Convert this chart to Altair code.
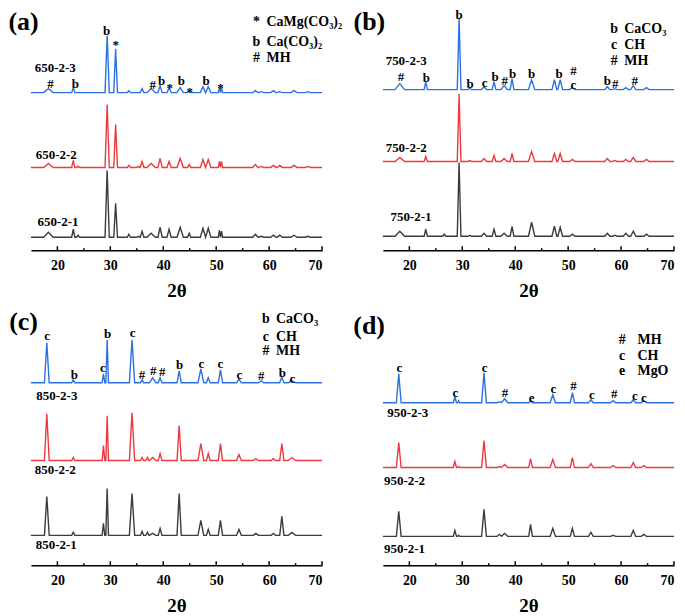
import altair as alt
import pandas as pd

FONT = "Liberation Serif"
COLORS = ["#3c3c3c", "#ee3a3f", "#2a72e4"]  # 1st, 2nd, 3rd sample
X_TICKS = [20, 30, 40, 50, 60, 70]
X_MINOR = [25, 35, 45, 55, 65]

# ---- panel (a): 650 °C ----
a_pos = [18.3, 23.0, 23.9, 29.4, 31.0, 33.5, 35.3, 36.0, 37.7, 39.4, 41.1, 43.2,
         44.9, 47.5, 48.5, 50.6, 51.0, 57.4, 58.5, 60.8, 62.0, 64.7, 67.3]
a_wid = [0.9, 0.3, 0.3, 0.4, 0.35, 0.3, 0.3, 0.35, 0.8, 0.4, 0.4, 0.6,
         0.3, 0.5, 0.5, 0.2, 0.2, 0.5, 0.5, 0.5, 0.5, 0.6, 0.5]
a_gray = [5, 8, 2, 67, 34, 3, 1, 6, 4, 10, 8, 10, 4, 9, 9, 7, 6, 3, 1, 2, 2, 2, 1]
a_red = [4, 7, 1, 63, 43, 2, 1, 6, 4, 9, 6, 9, 3, 8, 8, 6, 6, 3, 1, 2, 2, 2, 1]
a_blue = [4, 5, 0, 57, 44, 2, 0, 4, 4, 7, 5, 5, 2, 6, 6, 5, 5, 2, 1, 2, 1, 2, 1]
a_base = [13, 83, 158]
a_names = ["650-2-1", "650-2-2", "650-2-3"]
a_name_x = [20.1, 19.8, 19.6]
a_name_y = [28, 95, 183]
a_mk_t = ["#", "b", "b", "*", "#", "b", "*", "b", "*", "b", "*"]
a_mk_x = [18.7, 23.4, 29.3, 31.0, 38.0, 39.7, 41.2, 43.4, 45.0, 48.1, 50.8]
a_mk_y = [167, 167, 220, 206, 166, 170, 163, 170, 159, 170, 163]
a_lg_s = ["*", "b", "#"]
a_lg_t = ["CaMg(CO₃)₂", "Ca(CO₃)₂", "MH"]
a_lg_y = [229, 209, 193]

# ---- panel (b): 750 °C ----
b_pos = [18.2, 23.1, 26.6, 29.4, 31.4, 34.1, 36.0, 37.9, 39.4, 43.1, 47.4, 48.5,
         50.8, 57.4, 58.8, 60.9, 62.3, 64.8]
b_wid = [0.9, 0.3, 0.3, 0.35, 0.3, 0.5, 0.35, 0.6, 0.35, 0.6, 0.45, 0.45,
         0.5, 0.5, 0.4, 0.5, 0.5, 0.5]
b_gray = [5, 7, 2, 74, 1, 3, 7, 3, 10, 14, 10, 9, 2, 3, 1, 3, 5, 2]
b_red = [4, 5, 0, 68, 1, 3, 6, 3, 8, 10, 8, 8, 2, 3, 1, 2, 4, 2]
b_blue = [6, 8, 0, 72, 2, 3, 8, 4, 11, 10, 10, 10, 2, 3, 1, 2, 4, 2]
b_base = [14, 89, 161]
b_names = ["750-2-1", "750-2-2", "750-2-3"]
b_name_x = [20.3, 19.4, 19.4]
b_name_y = [33, 102, 190]
b_mk_t = ["#", "b", "b", "b", "c", "b", "#", "b", "b", "b", "#", "c", "b", "#", "#"]
b_mk_x = [18.4, 23.2, 29.4, 31.5, 34.2, 36.2, 38.0, 39.5, 43.1, 48.3, 51.0, 51.0, 57.4, 58.9, 62.6]
b_mk_y = [174, 173, 236, 167, 168, 174, 170, 177, 177, 177, 180, 166, 170, 167, 170]
b_lg_s = ["b", "c", "#"]
b_lg_t = ["CaCO₃", "CH", "MH"]
b_lg_y = [222, 206, 190]

# ---- panel (c): 850 °C ----
c_pos = [18.0, 23.0, 28.7, 29.4, 34.1, 36.0, 37.0, 38.0, 39.4, 43.0, 47.1, 48.5,
         50.8, 54.3, 57.5, 58.5, 60.8, 62.4, 64.3]
c_wid = [0.45, 0.3, 0.25, 0.25, 0.5, 0.3, 0.3, 0.6, 0.35, 0.4, 0.55, 0.35,
         0.4, 0.45, 0.5, 0.5, 0.4, 0.4, 0.7]
c_gray = [39, 3, 12, 47, 42, 4, 3, 2, 7, 42, 15, 6, 15, 6, 2, 0, 2, 19, 3]
c_red = [47, 3, 15, 45, 48, 3, 3, 3, 7, 35, 17, 7, 17, 6, 2, 0, 2, 17, 3]
c_blue = [40, 3, 9, 43, 43, 3, 0, 5, 5, 12, 14, 5, 13, 4, 0, 2, 0, 6, 2]
c_base = [30, 105, 183]
c_names = ["850-2-1", "850-2-2", "850-2-3"]
c_name_x = [19.8, 19.6, 19.9]
c_name_y = [20, 96, 170]
c_mk_t = ["c", "b", "c", "b", "c", "#", "#", "#", "b", "c", "c", "c", "#", "b", "c"]
c_mk_x = [18.06, 23.2, 28.6, 29.5, 34.2, 36.0, 38.1, 39.8, 43.1, 47.2, 50.8, 54.4, 58.5, 62.5, 64.4]
c_mk_y = [230, 191, 198, 232, 233, 191, 195, 194, 201, 202, 202, 191, 190, 193, 187]
c_lg_s = ["b", "c", "#"]
c_lg_t = ["CaCO₃", "CH", "MH"]
c_lg_y = [247, 229, 215]

# ---- panel (d): 950 °C ----
d_pos = [18.0, 28.6, 29.3, 34.1, 37.0, 38.0, 42.9, 47.1, 50.8, 54.3, 58.5, 62.3, 64.3]
d_wid = [0.45, 0.3, 0.2, 0.45, 0.4, 0.6, 0.35, 0.5, 0.4, 0.45, 0.5, 0.45, 0.5]
d_gray = [25, 6, 1, 27, 2, 3, 12, 8, 8, 4, 1, 6, 2]
d_red = [25, 6, 1, 27, 1, 3, 9, 8, 10, 4, 2, 5, 2]
d_blue = [29, 6, 2, 30, 1, 4, 2, 8, 10, 3, 2, 3, 2]
d_base = [29, 98, 163]
d_names = ["950-2-1", "950-2-2", "950-2-3"]
d_name_x = [19.1, 19.1, 19.7]
d_name_y = [16, 84, 153]
d_mk_t = ["c", "c", "c", "#", "e", "c", "#", "c", "#", "c", "c"]
d_mk_x = [18.1, 28.7, 34.2, 38.05, 43.1, 47.2, 51.0, 54.5, 58.7, 62.6, 64.3]
d_mk_y = [198, 173, 198, 173, 168, 177, 180, 171, 172, 170, 168]
d_lg_s = ["#", "c", "e"]
d_lg_t = ["MH", "CH", "MgO"]
d_lg_y = [226, 210, 195]


def trace_rows(pos, wid, traces, bases):
    rows = []
    for k, (ints, b) in enumerate(zip(traces, bases)):
        rows.append((15.0, b, k))
        for p, w, h in zip(pos, wid, ints):
            if h > 0:
                rows += [(p - w, b, k), (p, b + h, k), (p + w, b, k)]
        rows.append((70.0, b, k))
    return pd.DataFrame(rows, columns=["t", "i", "k"])


def panel(letter, letter_xy, pos, wid, traces, bases, names, name_x, name_y,
          mk_t, mk_x, mk_y, lg_s, lg_t, lg_y, lg_sx, lg_tx, height):
    x_scale = alt.Scale(domain=[15, 70], nice=False)
    y_scale = alt.Scale(domain=[0, height], nice=False)
    x_axis = alt.Axis(values=X_TICKS, title="2θ", grid=False, ticks=False, tickSize=0,
                      domainColor="black", domainWidth=1.5,
                      labelFont=FONT, labelFontWeight="bold", labelFontSize=14,
                      labelColor="black", labelPadding=8,
                      titleFont=FONT, titleFontWeight="bold", titleFontSize=19,
                      titleColor="black", titlePadding=9)

    lines = alt.Chart(trace_rows(pos, wid, traces, bases)).mark_line(
        strokeWidth=1.4
    ).encode(
        x=alt.X("t:Q", scale=x_scale, axis=x_axis),
        y=alt.Y("i:Q", scale=y_scale, axis=None),
        color=alt.Color("k:N", scale=alt.Scale(domain=[0, 1, 2], range=COLORS), legend=None),
    )

    ticks = pd.DataFrame({"t": X_TICKS + X_MINOR,
                          "i": [0] * 11,
                          "i2": [4] * 6 + [2] * 5})
    tick_rules = alt.Chart(ticks).mark_rule(color="black", strokeWidth=1.5).encode(
        x="t:Q", y="i:Q", y2="i2:Q")

    txt = dict(font=FONT, fontWeight="bold", color="black", baseline="middle")

    name_df = pd.DataFrame({"t": name_x, "i": name_y, "s": names})
    name_text = alt.Chart(name_df).mark_text(fontSize=13, align="center", **txt).encode(
        x="t:Q", y="i:Q", text="s:N")

    mk_df = pd.DataFrame({"t": mk_x, "i": mk_y, "s": mk_t})
    mk_text = alt.Chart(mk_df).mark_text(fontSize=13, align="center", **txt).encode(
        x="t:Q", y="i:Q", text="s:N")

    lg_sym = alt.Chart(pd.DataFrame({"t": [lg_sx] * 3, "i": lg_y, "s": lg_s})).mark_text(
        fontSize=14, align="center", **txt).encode(x="t:Q", y="i:Q", text="s:N")
    lg_txt = alt.Chart(pd.DataFrame({"t": [lg_tx] * 3, "i": lg_y, "s": lg_t})).mark_text(
        fontSize=14, align="left", **txt).encode(x="t:Q", y="i:Q", text="s:N")

    let_df = pd.DataFrame({"t": [letter_xy[0]], "i": [letter_xy[1]], "s": [letter]})
    let_text = alt.Chart(let_df).mark_text(fontSize=26, align="center", **txt).encode(
        x="t:Q", y="i:Q", text="s:N")

    return alt.layer(lines, tick_rules, name_text, mk_text, lg_sym, lg_txt, let_text).properties(
        width=292, height=height)


pa = panel("(a)", (13.6, 229), a_pos, a_wid, [a_gray, a_red, a_blue], a_base, a_names,
           a_name_x, a_name_y, a_mk_t, a_mk_x, a_mk_y, a_lg_s, a_lg_t, a_lg_y, 57.6, 59.5, 242)
pb = panel("(b)", (12.45, 229), b_pos, b_wid, [b_gray, b_red, b_blue], b_base, b_names,
           b_name_x, b_name_y, b_mk_t, b_mk_x, b_mk_y, b_lg_s, b_lg_t, b_lg_y, 58.7, 60.6, 242)
pc = panel("(c)", (13.6, 244), c_pos, c_wid, [c_gray, c_red, c_blue], c_base, c_names,
           c_name_x, c_name_y, c_mk_t, c_mk_x, c_mk_y, c_lg_s, c_lg_t, c_lg_y, 59.4, 61.3, 250)
pd_ = panel("(d)", (12.4, 240), d_pos, d_wid, [d_gray, d_red, d_blue], d_base, d_names,
            d_name_x, d_name_y, d_mk_t, d_mk_x, d_mk_y, d_lg_s, d_lg_t, d_lg_y, 60.2, 63.1, 250)

chart = alt.concat(
    pa, pb, pc, pd_, columns=2, spacing={"row": 66, "column": 61}, bounds="flush"
).properties(
    padding=0
).configure_view(
    stroke=None
)

chart.save("out.html", embed_options={"renderer": "svg", "actions": False})
